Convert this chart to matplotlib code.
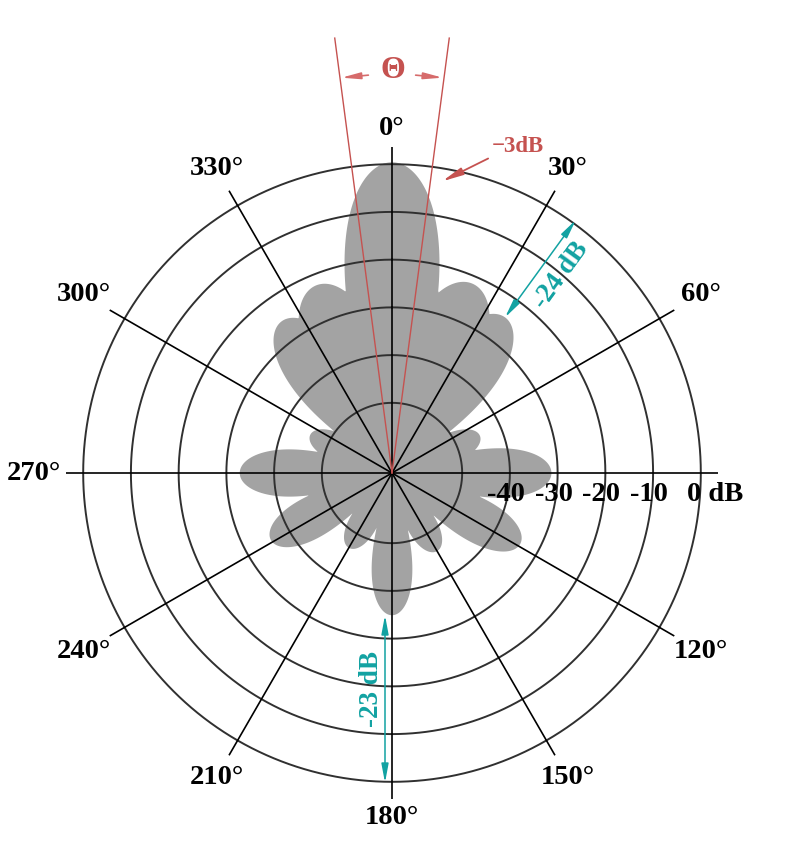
import numpy as np
import matplotlib
matplotlib.use("Agg")
import matplotlib.pyplot as plt
from matplotlib.transforms import offset_copy

# Pattern lobes: direction (deg), peak level (dB), half width (deg)
lobe_angle = [0, 23, 36, 67, 90, 119, 150, 180, 210, 241, 270, 295, 324, 338]
lobe_level = [0.4, -21.6, -24.4, -44.7, -31.3, -34.0, -45.8, -34.9, -46.6, -35.7, -32.8, -45.8, -25.4, -22.3]
lobe_width = [18.7, 22, 20, 19, 19, 18.5, 20, 17.5, 20, 18.5, 19, 19, 20, 22]

floor_db = -64.7          # level at the centre of the plot
ring_db = [-50, -40, -30, -20, -10, 0]
ring_labels = ['', '-40', '-30', '-20', '-10', '0 dB']
spoke_deg = list(range(0, 360, 30))
spoke_labels = ['0°', '30°', '60°', '', '120°', '150°', '180°', '210°', '240°', '270°', '300°', '330°']

beam_half = 7.5           # -3 dB half angle
side_lobe_db = -24.4      # level of the lobe marked "-24 dB"
side_lobe_dir = 36
back_lobe_db = -34.9      # back lobe, marked "-23 dB"

GRAY = '#a3a3a3'
RED = '#c55250'
CYAN = '#12a2a2'
SERIF = ['Liberation Serif', 'DejaVu Serif']
PX = 4.77                 # pixels per dB

fig = plt.figure(figsize=(8, 8.5), dpi=100)
ax = fig.add_axes([66 / 800, 51 / 850, 652 / 800, 652 / 850], projection='polar')
ax.set_theta_zero_location('N')
ax.set_theta_direction(-1)
r_top = 3.6
ax.set_ylim(floor_db, r_top)
ax.axis('off')

# envelope of the lobes
th = np.radians(np.arange(0, 360.01, 0.25))
env = np.zeros_like(th)
for a, lev, w in zip(lobe_angle, lobe_level, lobe_width):
    d = (np.degrees(th) - a + 180) % 360 - 180
    u = np.clip(np.abs(d) / w, 0, 1)
    shape = np.cos(np.pi / 2 * u) ** 0.5
    env = np.maximum(env, (lev - floor_db) * shape)
ax.fill(th, floor_db + env, color=GRAY, lw=0, zorder=1)

# rings and spokes
circ = np.linspace(0, 2 * np.pi, 721)
for r in ring_db:
    ax.plot(circ, np.full_like(circ, r), color='#303030', lw=1.4, zorder=3)
for a in spoke_deg:
    ax.plot([np.radians(a)] * 2, [floor_db, r_top], color='black', lw=1.2, zorder=3)

for a, s in zip(spoke_deg, spoke_labels):
    if s:
        lab_r = (344 + 14 * abs(np.sin(np.radians(a)))) / PX + floor_db
        ax.text(np.radians(a), lab_r, s, ha='center', va='center', fontsize=20.5,
                fontweight='bold', family=SERIF)

below = offset_copy(ax.transData, fig=fig, x=-4, y=-22, units='dots')
below0 = offset_copy(ax.transData, fig=fig, x=-14, y=-22, units='dots')
for r, s in zip(ring_db, ring_labels):
    if not s:
        continue
    if s.startswith('0'):
        ax.text(np.pi / 2, r, s, transform=below0, ha='left', va='center',
                fontsize=20.5, fontweight='bold', family=SERIF)
    else:
        ax.text(np.pi / 2, r, s, transform=below, ha='center', va='center',
                fontsize=20.5, fontweight='bold', family=SERIF)

# beam width lines
r_far = 27.2
for s in (-1, 1):
    ax.plot([0, np.radians(s * beam_half)], [floor_db, r_far], color=RED, lw=1.0,
            zorder=4, clip_on=False)
r_theta = 18.8
ax.text(np.radians(0.1), 19.6, 'Θ', ha='center', va='center', fontsize=23, color=RED,
        fontweight='bold', family=SERIF)
for s in (-1, 1):
    ax.annotate('', xy=(np.radians(s * 7.3), r_theta), xytext=(np.radians(s * 3.4), r_theta),
                xycoords='data', annotation_clip=False,
                arrowprops=dict(arrowstyle='-|>,head_length=0.8,head_width=0.14',
                                color='#d66b6b', lw=1.2, mutation_scale=14,
                                shrinkA=0, shrinkB=0))

ax.annotate('', xy=(np.radians(9.75), -2.7), xytext=(np.radians(17), 4.2),
            annotation_clip=False,
            arrowprops=dict(arrowstyle='-|>,head_length=0.9,head_width=0.16',
                            color=RED, lw=1.3, mutation_scale=14, shrinkA=0, shrinkB=0))
ax.text(np.radians(21), 8.6, '−3dB', ha='center', va='center', fontsize=16.5, color=RED,
        fontweight='bold', family=SERIF)

# side lobe level
cyan_arrow = dict(arrowstyle='<|-|>,head_length=0.8,head_width=0.15', color=CYAN,
                  lw=1.1, mutation_scale=14, shrinkA=0, shrinkB=0)
ax.annotate('', xy=(np.radians(side_lobe_dir), side_lobe_db),
            xytext=(np.radians(side_lobe_dir), 0.8), arrowprops=cyan_arrow,
            annotation_clip=False)
ax.text(np.radians(40.6), -10.2, '-24 dB', ha='center', va='center', rotation=54,
        rotation_mode='anchor', fontsize=19.5, color=CYAN, fontweight='bold', family=SERIF)

# back lobe level
left7 = offset_copy(ax.transData, fig=fig, x=-7, y=0, units='dots')
ax.annotate('', xy=(np.pi, back_lobe_db), xytext=(np.pi, 0.2), xycoords=left7,
            textcoords=left7, arrowprops=cyan_arrow, annotation_clip=False)
left22 = offset_copy(ax.transData, fig=fig, x=-21, y=0, units='dots')
ax.text(np.pi, -19.5, '-23 dB', transform=left22, ha='center', va='center', rotation=90,
        fontsize=19.5, color=CYAN, fontweight='bold', family=SERIF)

fig.savefig('out.png', dpi=100)
